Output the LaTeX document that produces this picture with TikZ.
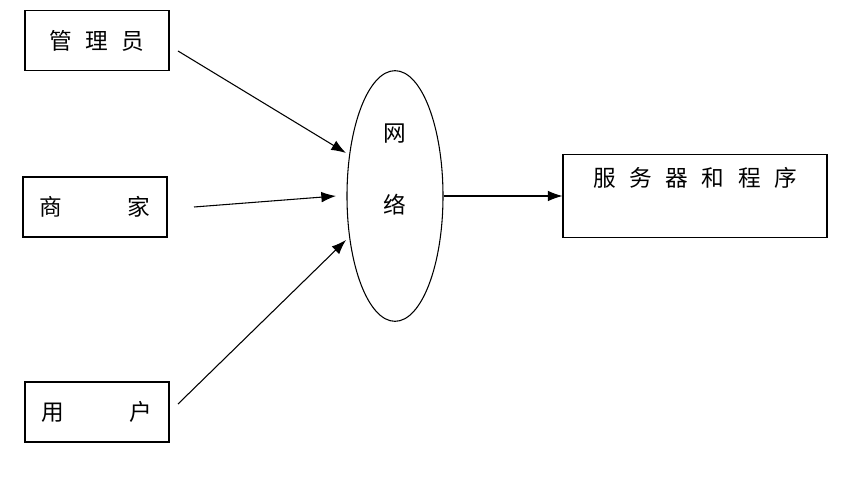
\documentclass[tikz,border=0pt]{standalone}
\usepackage{fontspec}
\newfontfamily\cjk{Noto Sans CJK SC}
\usetikzlibrary{shapes.geometric,arrows.meta}
\begin{document}
\begin{tikzpicture}[x=0.75pt,y=-0.75pt,
    box/.style={draw, thick, minimum height=45pt, font=\cjk\fontsize{17}{20}\selectfont},
    link/.style={-{Latex[length=11pt,width=8pt]}, thick}]

    % frame
    \useasboundingbox (0,0) rectangle (847,477);

    % actors
    \node[box, minimum width=108pt] (admin) at (97,40.5) {管\hspace{0.6em}理\hspace{0.6em}员};
    \node[box, minimum width=108pt] (shop) at (95,207) {商\hspace{2.9em}家};
    \node[box, minimum width=108pt] (user) at (97,412) {用\hspace{2.9em}户};

    % network
    \node[draw, thick, ellipse, minimum width=72pt, minimum height=188pt] (net) at (395,196) {};
    \node[font=\cjk\fontsize{17}{20}\selectfont, align=center] (netlabel) at (395,169) {网\\[34pt]络};

    % server
    \node[box, minimum width=198pt, minimum height=62pt, text depth=28pt] (server) at (695,196) {服\hspace{0.6em}务\hspace{0.6em}器\hspace{0.6em}和\hspace{0.6em}程\hspace{0.6em}序};

    % connectors
    \coordinate (a1) at (178,51);
    \coordinate (a2) at (346,153);
    \coordinate (b1) at (194,207);
    \coordinate (b2) at (336,196);
    \coordinate (c1) at (178,404);
    \coordinate (c2) at (346,240);
    \draw[link] (a1) -- (a2);
    \draw[link] (b1) -- (b2);
    \draw[link] (c1) -- (c2);
    \draw[link] (net.east) -- (server.west);

\end{tikzpicture}
\end{document}
